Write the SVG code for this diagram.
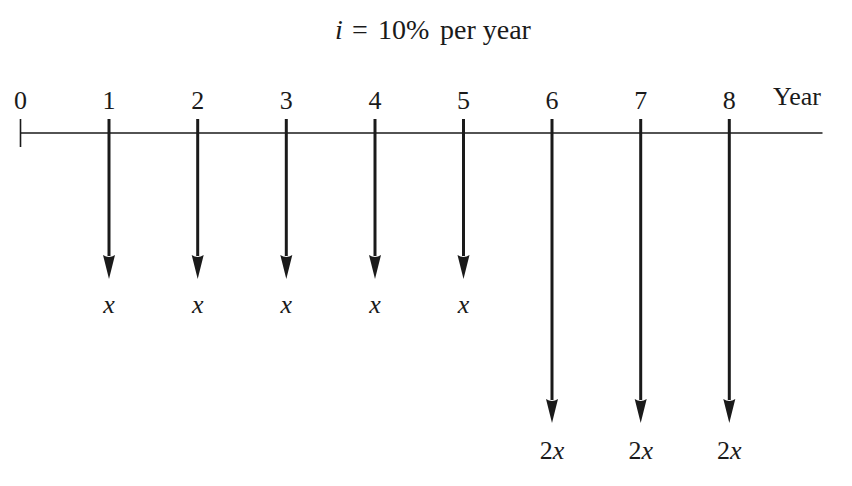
<svg xmlns="http://www.w3.org/2000/svg" width="852" height="486" viewBox="0 0 852 486">
<style>
.t{font-family:"Liberation Serif","Times New Roman",serif;font-size:26px;fill:#1a1a1a}
.h{font-size:28px}
.i{font-style:italic}
.axis{stroke:#1a1a1a;stroke-width:1.6;fill:none}
.arr{stroke:#1a1a1a;stroke-width:3;fill:none}
</style>
<defs>
<marker id="ah" markerUnits="userSpaceOnUse" markerWidth="25" markerHeight="13" viewBox="0 -6.5 25 13" refX="1" refY="0" orient="auto" overflow="visible">
<path d="M0,-6 L24,0 L0,6 Q4,0 0,-6 z" fill="#1a1a1a"/>
</marker>
</defs>
<rect width="852" height="486" fill="#ffffff"/>
<g id="title">
<text class="t h" y="39"><tspan class="i" x="335">i</tspan><tspan x="352">=</tspan><tspan x="378">10%</tspan><tspan x="440">per year</tspan></text>
</g>
<g id="axis">
<line class="axis" x1="20.5" y1="133" x2="822.5" y2="133"/>
<line class="axis" x1="20.5" y1="119" x2="20.5" y2="147"/>
<text class="t" x="20.5" y="109" text-anchor="middle">0</text>
<text class="t" x="109" y="109" text-anchor="middle">1</text>
<text class="t" x="197.7" y="109" text-anchor="middle">2</text>
<text class="t" x="286.3" y="109" text-anchor="middle">3</text>
<text class="t" x="375" y="109" text-anchor="middle">4</text>
<text class="t" x="463.5" y="109" text-anchor="middle">5</text>
<text class="t" x="552" y="109" text-anchor="middle">6</text>
<text class="t" x="640.7" y="109" text-anchor="middle">7</text>
<text class="t" x="729.3" y="109" text-anchor="middle">8</text>
<text class="t" x="773" y="105">Year</text>
</g>
<g id="connectors">
<line class="arr" x1="109" y1="119" x2="109" y2="256" marker-end="url(#ah)"/>
<line class="arr" x1="197.7" y1="119" x2="197.7" y2="256" marker-end="url(#ah)"/>
<line class="arr" x1="286.3" y1="119" x2="286.3" y2="256" marker-end="url(#ah)"/>
<line class="arr" x1="375" y1="119" x2="375" y2="256" marker-end="url(#ah)"/>
<line class="arr" x1="463.5" y1="119" x2="463.5" y2="256" marker-end="url(#ah)"/>
<line class="arr" x1="552" y1="119" x2="552" y2="400" marker-end="url(#ah)"/>
<line class="arr" x1="640.7" y1="119" x2="640.7" y2="400" marker-end="url(#ah)"/>
<line class="arr" x1="729.3" y1="119" x2="729.3" y2="400" marker-end="url(#ah)"/>
</g>
<g id="labels">
<text class="t i" x="109" y="313" text-anchor="middle">x</text>
<text class="t i" x="197.7" y="313" text-anchor="middle">x</text>
<text class="t i" x="286.3" y="313" text-anchor="middle">x</text>
<text class="t i" x="375" y="313" text-anchor="middle">x</text>
<text class="t i" x="463.5" y="313" text-anchor="middle">x</text>
<text class="t" x="552" y="459" text-anchor="middle">2<tspan class="i">x</tspan></text>
<text class="t" x="640.7" y="459" text-anchor="middle">2<tspan class="i">x</tspan></text>
<text class="t" x="729.3" y="459" text-anchor="middle">2<tspan class="i">x</tspan></text>
</g>
</svg>
